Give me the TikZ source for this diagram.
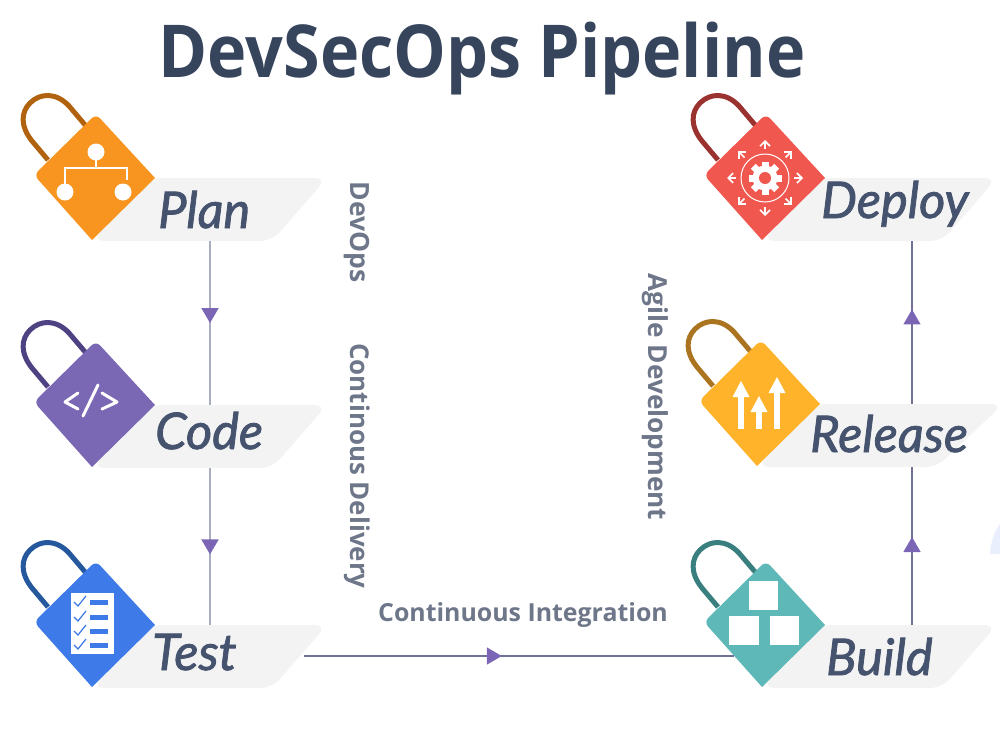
\documentclass[tikz,border=0pt]{standalone}
\usepackage{fontspec}
\usetikzlibrary{arrows.meta, decorations.markings}
\newfontfamily\titlefont{Open Sans}[FakeStretch = 0.91]
\newfontfamily\tagfont{Lato}[FakeBold = 1.6]
\newfontfamily\sidefont{Open Sans}

\definecolor{titlecol}{HTML}{36445C}
\definecolor{tagcol}{HTML}{45536E}
\definecolor{sidecol}{HTML}{6E7789}
\definecolor{barcol}{HTML}{F3F3F3}
\definecolor{tipcol}{HTML}{7A66B5}
\definecolor{palelinecol}{HTML}{A8AEC0}
\definecolor{linecol}{HTML}{6F7196}
\definecolor{plancol}{HTML}{F79520}
\definecolor{plandark}{HTML}{B0620F}
\definecolor{codecol}{HTML}{7B68B5}
\definecolor{codedark}{HTML}{4F4283}
\definecolor{testcol}{HTML}{3F7BE8}
\definecolor{testdark}{HTML}{26589E}
\definecolor{deploycol}{HTML}{F0584F}
\definecolor{deploydark}{HTML}{9A3230}
\definecolor{releasecol}{HTML}{FEB32B}
\definecolor{releasedark}{HTML}{AB7420}
\definecolor{buildcol}{HTML}{5FB8B8}
\definecolor{builddark}{HTML}{3A7F7F}
\definecolor{paleblue}{HTML}{E9EFFC}

\tikzset{
    pics/locktag/.style n args = {4}{code = {
        \fill [barcol, rounded corners = 12] (150,178) -- (#3,178) -- (272,241) -- (92,241) -- cycle;
        \draw [#2, line width = 5] (48,160) -- (32,141) .. controls (20,126) and (21,112) .. (30,103) .. controls (40,93) and (56,92) .. (69,106) -- (86,126);
        \fill [#1] (155,178) [rounded corners = 6] -- (96,114) -- (34,175) [sharp corners] -- (92,240) -- cycle;
        \coordinate (-top) at (#4,178);
        \coordinate (-bottom) at (#4,241);
        \coordinate (-right) at (304,209);
        \coordinate (-left) at (64,209);
    }},
    tagtext/.style = {anchor = base west, inner sep = 0pt, text = tagcol, font = \tagfont\itshape\fontsize{50.5}{51}\selectfont},
    sidetext/.style = {inner sep = 0pt, text = sidecol, font = \sidefont\bfseries\fontsize{#1}{#1}\selectfont},
    flow/.style = {line width = 1.4pt, draw = #1},
    midtip/.style = {postaction = {decorate, decoration = {markings, mark = at position #1 with {\arrow{Triangle[length = 15pt, width = 17pt, color = tipcol]}}}}},
}

\begin{document}
\begin{tikzpicture} [x = 1pt, y = -1pt]
    \useasboundingbox (0,0) rectangle (1000,750);

    \fill [paleblue] (990,554) .. controls (991,540) and (995,530) .. (1000,524) -- (1000,554) -- cycle;

    \node (title) [inner sep = 0pt, text = titlecol, font = \titlefont\bfseries\fontsize{73}{73}\selectfont] at (482,59) {DevSecOps Pipeline};

    \pic (plan) at (0,0) {locktag = {plancol}{plandark}{327}{210}};
    \pic (code) at (0,227) {locktag = {codecol}{codedark}{327}{210}};
    \pic (test) at (0,447) {locktag = {testcol}{testdark}{327}{210}};
    \pic (deploy) at (670,0) {locktag = {deploycol}{deploydark}{327}{242}};
    \pic (release) at (665,226) {locktag = {releasecol}{releasedark}{338}{247}};
    \pic (build) at (670,447) {locktag = {buildcol}{builddark}{327}{242}};

    \node (plantext) [tagtext] at (158,228) {Plan};
    \node (codetext) [tagtext] at (155,449) {Code};
    \node (testtext) [tagtext] at (152,670) {Test};
    \node (deploytext) [tagtext] at (821,218) {Deploy};
    \node (releasetext) [tagtext] at (810,452) {Release};
    \node (buildtext) [tagtext] at (826,675) {Build};

    \node (devops) [sidetext = 26.5, rotate = -90] at (357,232) {DevOps};
    \node (delivery) [sidetext = 25.9, rotate = -90] at (357,466) {Continous Delivery};
    \node (agile) [sidetext = 26.2, rotate = -90] at (655,397) {Agile Development};
    \node (integration) [sidetext = 24.9] at (523,615) {Continuous Integration};

    \draw [flow = palelinecol, line width = 2pt, midtip = 0.5] (plan-bottom) -- (code-top);
    \draw [flow = palelinecol, line width = 2pt, midtip = 0.55] (code-bottom) -- (test-top);
    \draw [flow = linecol, midtip = 0.46] (test-right) -- (build-left);
    \draw [flow = linecol, midtip = 0.557] (build-top) -- (release-bottom);
    \draw [flow = linecol, midtip = 0.58] (release-top) -- (deploy-bottom);

    % plan icon
    \draw [white, line width = 1.2] (96,152) -- (96,168) (65,190) |- (127,168) -- (127,180);
    \foreach \cx/\cy in {96/152, 65/192, 123/192}
        \fill [white] (\cx,\cy) circle (8.5);

    % code icon
    \draw [white, line width = 3, line cap = round, line join = round] (78,393) -- (65,402) -- (78,409) (98,385) -- (83,416) (102,393) -- (117,402) -- (102,409);

    % test icon
    \fill [white] (71,593) rectangle (114,654);
    \foreach \rowy in {602, 617, 631, 645} {
        \fill [testcol] (90,\rowy-2.5) rectangle (108,\rowy+2.5);
        \draw [testcol, line width = 1.2] (74,\rowy) -- (78,\rowy+4) -- (86,\rowy-6);
    }

    % deploy icon
    \draw [white, line width = 1] (765,178) circle (24);
    \foreach \a in {0,45,...,315} {
        \fill [white, shift = {(765,178)}, rotate = \a] (10,-3.5) rectangle (16.5,3.5);
        \draw [white, line width = 1.6, shift = {(765,178)}, -{Straight Barb[length = 5pt, width = 10pt]}] (\a:29) -- (\a:38);
    }
    \fill [white] (765,178) circle (12.5);
    \fill [deploycol] (765,178) circle (6);

    % release icon
    \foreach \ax/\tipy in {741/381, 759/396, 777/377} {
        \fill [white] (\ax-3,\tipy+10) rectangle (\ax+3,429);
        \fill [white] (\ax,\tipy) -- (\ax+8.5,\tipy+16) -- (\ax-8.5,\tipy+16) -- cycle;
    }

    % build icon
    \fill [white] (749,581) rectangle (778,610);
    \fill [white] (729,616) rectangle (759,645);
    \fill [white] (770,616) rectangle (799,645);
\end{tikzpicture}
\end{document}
